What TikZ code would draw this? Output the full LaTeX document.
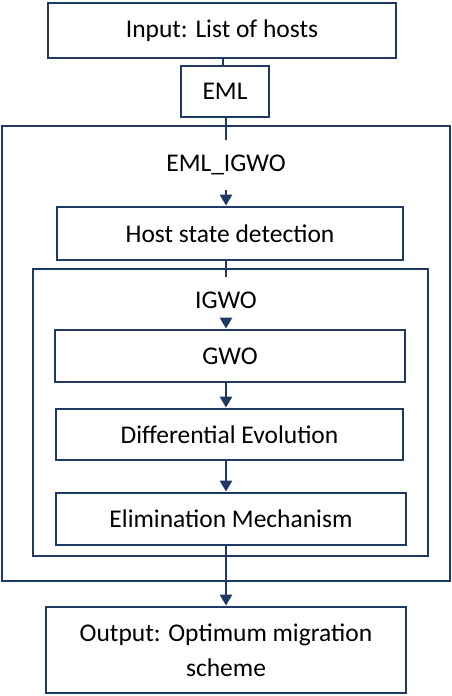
\documentclass[tikz,border=0pt]{standalone}
\usepackage{fontspec}
\setmainfont{Carlito}
\usepackage{tikz}
\usetikzlibrary{arrows.meta,calc}
\definecolor{navy}{RGB}{32,56,100}

\begin{document}
\begin{tikzpicture}[x=1pt,y=-1pt,
    box/.style={draw=navy, line width=2.8pt, inner sep=0pt, align=center,
        font=\fontsize{25.5}{35}\selectfont},
    tag/.style={inner sep=0pt, font=\fontsize{25.5}{30}\selectfont},
    link/.style={navy, line width=2.8pt},
    arr/.style={link, -{Triangle[length=11pt,width=12pt]}}]
    \useasboundingbox (0,0) rectangle (452,696);

    % containers
    \draw[link] (2,126) rectangle (450,581);
    \draw[link] (33,269) rectangle (428,556);

    \node[box, minimum width=348pt, minimum height=55pt] (input) at (222,30.5) {Input: List of hosts};
    \node[box, minimum width=88pt, minimum height=51pt] (eml) at (225,91.5) {EML};
    \node[tag, minimum height=50pt] (lblA) at (226,165) {EML\_IGWO};
    \node[box, minimum width=346pt, minimum height=53pt] (host) at (230,233.5) {Host state detection};
    \node[tag, minimum height=46pt] (lblB) at (226,300) {IGWO};
    \node[box, minimum width=350pt, minimum height=52pt] (gwo) at (230,356) {GWO};
    \node[box, minimum width=347pt, minimum height=51pt] (de) at (229.5,434.5) {Differential Evolution};
    \node[box, minimum width=360pt, minimum height=86pt] (out) at (226,650) {Output: Optimum migration\\scheme};
    \node[box, minimum width=350pt, minimum height=52pt] (em) at (231,519) {Elimination Mechanism};

    \draw[link] (input.south -| 223,0) -- (eml.north -| 223,0);
    \draw[link] (eml.south -| lblA) -- (lblA.north);
    \draw[arr] (lblA.south) -- (host.north -| lblA);
    \draw[link] (host.south -| lblB) -- (lblB.north);
    \draw[arr] (lblB.south) -- (gwo.north -| lblB);
    \draw[arr] (gwo.south -| lblB) -- (de.north -| lblB);
    \draw[arr] (de.south -| lblB) -- (em.north -| lblB);
    \draw[arr] (em.south -| lblB) -- (out.north -| lblB);
\end{tikzpicture}
\end{document}
